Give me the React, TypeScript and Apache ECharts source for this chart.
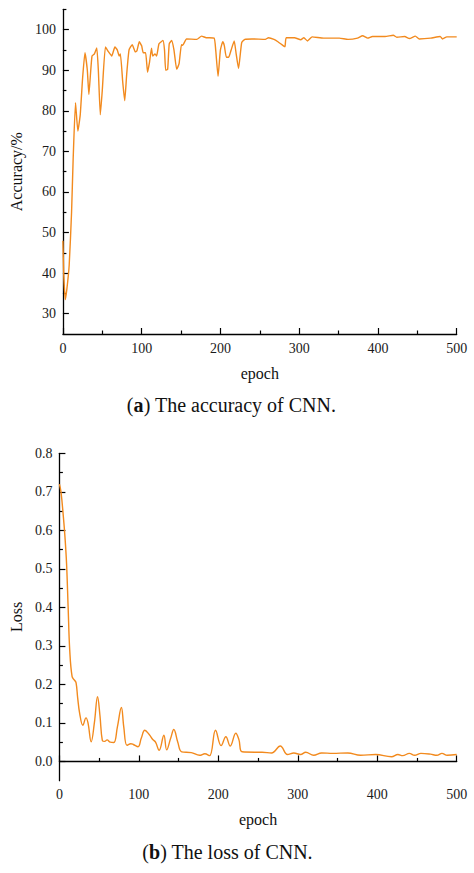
import { useEffect, useRef } from 'react';
import * as echarts from 'echarts';

// accuracy curve: [epoch, accuracy %]
const accEpochs = [
  0, 1, 3, 5, 8, 11, 13, 16, 19, 22, 25, 28, 31, 33, 35, 37, 40, 43, 45, 47.5,
  50, 54, 58, 62, 66, 69, 71.5, 73, 76, 78.5, 81, 84, 88, 92, 94, 97, 100, 102,
  105, 107.5, 110, 112.5, 114, 117, 119, 122, 127, 129, 130.5, 133, 135, 138,
  141, 144.5, 147.5, 150.5, 152, 157, 170, 176, 182, 192, 194, 197, 200, 203,
  205, 207.5, 210.5, 213.5, 217.5, 220, 223, 227, 231, 240, 257, 261, 268, 273,
  280, 282, 283.5, 294, 302, 306, 310.5, 316.5, 331, 351, 362, 374, 380.5, 387,
  393, 409, 419.5, 424, 434, 440, 447.5, 452.5, 467, 479, 482, 487.5, 500,
];
const accValues = [
  48, 40, 33.5, 36, 42, 55, 68, 82, 75, 79, 88, 94.3, 90, 84, 89, 93.5, 94,
  95.5, 90, 79, 85, 95.7, 94.5, 93.5, 95.7, 95, 93.5, 94, 87, 82.5, 89, 95,
  96.3, 94.5, 94.8, 97, 96, 94.3, 94.3, 89.5, 92, 95.4, 93.5, 94, 93.5, 96.5,
  97.3, 95, 90, 90.2, 96.5, 97.3, 95, 90.2, 91.6, 96.3, 96.1, 97.7, 97.6, 98.4,
  98, 97.9, 95, 88.5, 95, 97, 96, 93.2, 93.2, 94.9, 97.2, 94, 90.4, 96.8, 97.6,
  97.7, 97.6, 98, 97.6, 97, 96, 95.8, 98, 98, 97.5, 98, 97.2, 98.2, 97.9, 97.9,
  97.6, 97.9, 98.5, 97.9, 98.3, 98.3, 98.6, 98.1, 98.3, 97.8, 98.4, 97.7, 97.9,
  98.3, 97.7, 98.2, 98.2,
];

// loss curve: [epoch, loss]
const lossEpochs = [
  0, 2, 5, 7, 9, 11, 13, 16, 19, 21, 23, 25.5, 29.5, 33.5, 36, 40, 44, 48, 51,
  54, 57, 60, 64, 68.5, 73, 78, 81, 85, 90, 93, 99, 103, 107.5, 113, 117.5, 121,
  125.5, 131.5, 135, 140, 144, 149, 154, 166, 176.5, 183, 189, 196.5, 203.5,
  209.5, 215, 222, 226, 230, 246, 255, 267, 278, 287, 295, 303.5, 310, 320, 330,
  344, 363, 379, 398, 418, 426, 432, 440.5, 447, 455, 467, 475, 481.5, 488, 500,
];
const lossValues = [
  0.72, 0.7, 0.635, 0.583, 0.514, 0.4, 0.289, 0.22, 0.211, 0.204, 0.165, 0.125,
  0.094, 0.113, 0.1, 0.051, 0.1, 0.168, 0.12, 0.055, 0.052, 0.056, 0.05, 0.049,
  0.09, 0.14, 0.09, 0.042, 0.046, 0.044, 0.038, 0.06, 0.081, 0.07, 0.057, 0.05,
  0.029, 0.068, 0.03, 0.06, 0.083, 0.05, 0.025, 0.023, 0.016, 0.02, 0.015,
  0.081, 0.041, 0.064, 0.04, 0.073, 0.056, 0.025, 0.024, 0.024, 0.022, 0.04,
  0.018, 0.022, 0.018, 0.024, 0.016, 0.022, 0.021, 0.022, 0.016, 0.018, 0.012,
  0.018, 0.015, 0.021, 0.016, 0.021, 0.019, 0.016, 0.021, 0.016, 0.018,
];

const accMajorTicks = [30, 40, 50, 60, 70, 80, 90, 100];
const accMinorTicks = [35, 45, 55, 65, 75, 85, 95, 105];
const lossMajorTicks = [0, 0.1, 0.2, 0.3, 0.4, 0.5, 0.6, 0.7, 0.8];
const lossMinorTicks = [0.05, 0.15, 0.25, 0.35, 0.45, 0.55, 0.65, 0.75];

const LINE = '#F28A1E';
const FONT = 'Liberation Serif';

const axisLine = { show: true, lineStyle: { color: '#000', width: 1.3 } };
const tickLabel = { color: '#1a1a1a', fontSize: 14, fontFamily: FONT };
const nameStyle = { color: '#111', fontSize: 16, fontFamily: FONT };

const xAxisFor = (gridIndex: number) => ({
  type: 'value' as const,
  gridIndex,
  min: 0,
  max: 500,
  interval: 100,
  name: 'epoch',
  nameLocation: 'middle' as const,
  nameGap: 31,
  nameTextStyle: nameStyle,
  axisLine,
  axisTick: { inside: true, length: 6, lineStyle: { color: '#000', width: 1.2 } },
  minorTick: { show: true, splitNumber: 2, length: 3.5, lineStyle: { color: '#000', width: 1.2 } },
  axisLabel: { ...tickLabel, margin: 7 },
  splitLine: { show: false },
});

const App = () => {
  const chartRef = useRef<HTMLDivElement>(null);

  useEffect(() => {
    if (!chartRef.current) return;
    const chart = echarts.init(chartRef.current, undefined, { renderer: 'svg' });

    const option = {
      animation: false,
      backgroundColor: '#fff',
      grid: [
        { left: 52.3, right: 17.3, top: 9.3, height: 324.7 },
        { left: 49.3, right: 17.3, top: 453.3, height: 327.4 },
      ],
      xAxis: [xAxisFor(0), xAxisFor(1)],
      yAxis: [
        {
          type: 'value' as const,
          gridIndex: 0,
          min: 25,
          max: 105,
          name: 'Accuracy/%',
          nameLocation: 'middle' as const,
          nameGap: 31,
          nameTextStyle: nameStyle,
          axisLine,
          axisTick: {
            inside: true,
            length: 6,
            customValues: accMajorTicks,
            lineStyle: { color: '#000', width: 1.2 },
          },
          axisLabel: { ...tickLabel, margin: 7, customValues: accMajorTicks },
          splitLine: { show: false },
        },
        {
          type: 'value' as const,
          gridIndex: 0,
          position: 'left' as const,
          offset: 0,
          min: 25,
          max: 105,
          axisLine: { show: false },
          axisTick: {
            inside: true,
            length: 3.5,
            customValues: accMinorTicks,
            lineStyle: { color: '#000', width: 1.2 },
          },
          axisLabel: { show: false },
          splitLine: { show: false },
        },
        {
          type: 'value' as const,
          gridIndex: 1,
          min: -0.05,
          max: 0.8,
          name: 'Loss',
          nameLocation: 'middle' as const,
          nameGap: 31,
          nameTextStyle: nameStyle,
          axisLine,
          axisTick: {
            inside: true,
            length: 6,
            customValues: lossMajorTicks,
            lineStyle: { color: '#000', width: 1.2 },
          },
          axisLabel: {
            ...tickLabel,
            margin: 7,
            customValues: lossMajorTicks,
            formatter: (v: number) => v.toFixed(1),
          },
          splitLine: { show: false },
        },
        {
          type: 'value' as const,
          gridIndex: 1,
          position: 'left' as const,
          offset: 0,
          min: -0.05,
          max: 0.8,
          axisLine: { show: false },
          axisTick: {
            inside: true,
            length: 3.5,
            customValues: lossMinorTicks,
            lineStyle: { color: '#000', width: 1.2 },
          },
          axisLabel: { show: false },
          splitLine: { show: false },
        },
      ],
      series: [
        {
          type: 'line' as const,
          xAxisIndex: 0,
          yAxisIndex: 0,
          data: accEpochs.map((e, i) => [e, accValues[i]]),
          symbol: 'none',
          smooth: 0.15,
          lineStyle: { color: LINE, width: 1.4 },
          z: 1,
        },
        {
          type: 'line' as const,
          xAxisIndex: 1,
          yAxisIndex: 2,
          data: lossEpochs.map((e, i) => [e, lossValues[i]]),
          symbol: 'none',
          smooth: 0.4,
          lineStyle: { color: LINE, width: 1.4 },
          z: 1,
        },
      ],
      graphic: [
        {
          type: 'text' as const,
          x: 231.5,
          y: 405,
          style: {
            text: '{p|(}{b|a}{p|) The accuracy of CNN.}',
            textAlign: 'center',
            textVerticalAlign: 'middle',
            rich: {
              p: { fontSize: 20, fontFamily: FONT, fill: '#111' },
              b: { fontSize: 20, fontFamily: FONT, fontWeight: 'bold', fill: '#111' },
            },
          },
        },
        {
          type: 'text' as const,
          x: 227.5,
          y: 851.7,
          style: {
            text: '{p|(}{b|b}{p|) The loss of CNN.}',
            textAlign: 'center',
            textVerticalAlign: 'middle',
            rich: {
              p: { fontSize: 20, fontFamily: FONT, fill: '#111' },
              b: { fontSize: 20, fontFamily: FONT, fontWeight: 'bold', fill: '#111' },
            },
          },
        },
      ],
    };

    chart.setOption(option);
    return () => chart.dispose();
  }, []);

  return (
    <div
      ref={chartRef}
      style={{ position: 'absolute', left: 0, top: 0, width: 474, height: 873 }}
    />
  );
};

export default App;
